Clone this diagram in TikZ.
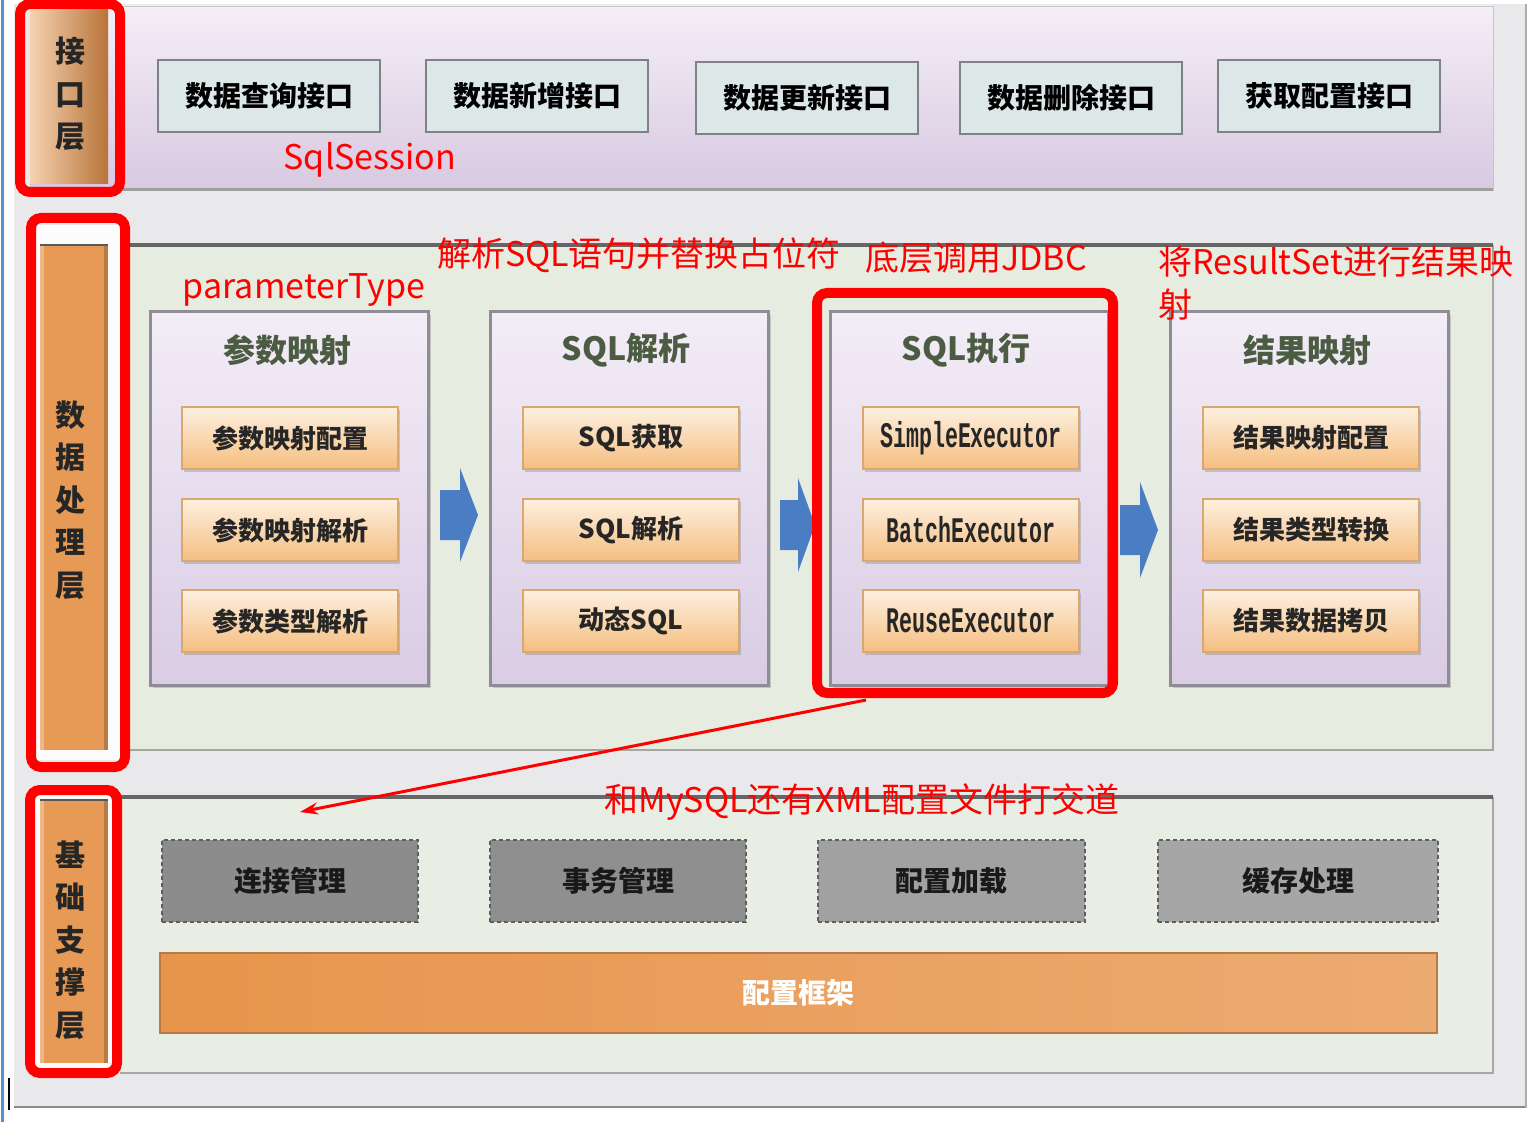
\documentclass[tikz,border=0pt]{standalone}
\usepackage{fontspec}
\usepackage{graphicx}
\setmainfont{Noto Sans CJK SC}
\newfontfamily\monob{Liberation Mono}
\usetikzlibrary{shadows,arrows.meta}
\definecolor{bgcol}{HTML}{E9E9EB}
\definecolor{framegray}{HTML}{8A8A8A}
\definecolor{leftblue}{HTML}{5B8FD0}
\definecolor{topA}{HTML}{F4EEF7}
\definecolor{topB}{HTML}{D8C9E1}
\definecolor{orL}{HTML}{F6D2B0}
\definecolor{orM}{HTML}{E88C35}
\definecolor{orR}{HTML}{B8743A}
\definecolor{orFlat}{HTML}{E69A56}
\definecolor{midbg}{HTML}{E7ECE0}
\definecolor{botbg}{HTML}{E9EEE5}
\definecolor{colA}{HTML}{F3EDF7}
\definecolor{colB}{HTML}{D9CCE4}
\definecolor{colborder}{HTML}{8F8C96}
\definecolor{peachA}{HTML}{FDF0E0}
\definecolor{peachB}{HTML}{F5BE80}
\definecolor{peachborder}{HTML}{D9A870}
\definecolor{ifboxc}{HTML}{DCE7E8}
\definecolor{ifborder}{HTML}{7E8286}
\definecolor{arrowblue}{HTML}{4A7DC2}
\definecolor{titlegreen}{HTML}{4B5C43}
\definecolor{barL}{HTML}{E8954C}
\definecolor{barR}{HTML}{ECAB72}
\definecolor{barborder}{HTML}{B97A45}
\definecolor{dashborder}{HTML}{5E5E5E}
\tikzset{
  ifbox/.style={draw=ifborder, line width=1.3pt, fill=ifboxc, minimum width=111pt, minimum height=36pt,
    inner sep=0pt, font=\fontsize{14}{16}\selectfont\bfseries, text=black},
  colbox/.style={draw=colborder, line width=1.5pt, top color=colA, bottom color=colB,
    minimum width=139pt, minimum height=186.5pt, inner sep=0pt,
    drop shadow={shadow xshift=1.5pt, shadow yshift=-1.5pt, opacity=.35}},
  coltitle/.style={text=titlegreen, font=\fontsize{16}{18}\selectfont\bfseries},
  subbox/.style={draw=peachborder, line width=0.8pt, top color=peachA, bottom color=peachB,
    minimum width=108pt, minimum height=31pt, inner sep=0pt, text=black!85,
    font=\fontsize{13}{15}\selectfont\bfseries,
    drop shadow={shadow xshift=1pt, shadow yshift=-1.5pt, opacity=.35}},
  dbox/.style={draw=dashborder, line width=1pt, dash pattern=on 2pt off 1.5pt,
    minimum height=41pt, inner sep=0pt, text=black!90, font=\fontsize{14}{16}\selectfont\bfseries},
  redbox/.style={draw=red, line width=5pt, rounded corners=5pt},
  redtxt/.style={text=red, inner sep=0pt, font=\fontsize{17}{20}\selectfont},
  vlabel/.style={align=center, inner sep=0pt, text=black!85, font=\fontsize{15}{21.25}\selectfont\bfseries},
  bluearrow/.style={fill=arrowblue},
}
\newcommand{\exectext}[1]{\scalebox{0.6}[1]{\monob\bfseries\fontsize{18}{20}\selectfont #1}}
\begin{document}
\begin{tikzpicture}[x=0.5pt,y=-0.5pt]
\useasboundingbox (0,0) rectangle (1540,1122);
\fill[white] (0,0) rectangle (1540,1122);
\fill[bgcol] (14,4) rectangle (1526,1108);
\draw[line width=1pt, framegray] (14,1107) -- (1526,1107);
\draw[line width=0.8pt, framegray!70] (1526,4) -- (1526,1108);
\draw[line width=1.5pt, leftblue] (2,0) -- (2,1122);
\draw[line width=1.2pt, black] (9,1078) -- (9,1110);

% ---------- top band: interface layer ----------
\path[top color=topA, bottom color=topB, draw=gray!45] (30,6) rectangle (1493,190);
\draw[line width=1.5pt, gray!75] (108,190) -- (1493,190);
\path[left color=orL, middle color=orM, right color=orR] (30,6) rectangle (108,184);
\node[vlabel] (l1) at (70,94) {接\\口\\层};

\node[ifbox] (i1) at (269,96) {数据查询接口};
\node[ifbox] (i2) at (537,96) {数据新增接口};
\node[ifbox] (i3) at (807,98) {数据更新接口};
\node[ifbox] (i4) at (1071,98) {数据删除接口};
\node[ifbox] (i5) at (1329,96) {获取配置接口};
\node[redtxt] (t1) at (370,160) {SqlSession};

% ---------- middle band: data processing layer ----------
\fill[midbg] (130,245) rectangle (1493,750);
\draw[line width=0.8pt, gray!70] (1493,245) -- (1493,750) -- (130,750);
\draw[line width=2pt, gray!80!black] (130,245) -- (1493,245);
\fill[white!85!bgcol] (36,225) rectangle (120,760);
\fill[orFlat] (40,245) rectangle (108,750);
\fill[orFlat!70!white] (40,245) rectangle (44,750);
\fill[orFlat!80!black] (104,245) rectangle (108,750);
\draw[line width=1pt, gray!70!black] (40,245) -- (108,245);
\node[vlabel] (l2) at (70,500) {数\\据\\处\\理\\层};

\node[colbox] (c1) at (289,498.5) {};
\node[colbox] (c2) at (629,498.5) {};
\node[colbox] (c3) at (969,498.5) {};
\node[colbox] (c4) at (1309,498.5) {};

\node[coltitle] (h1) at (287,350) {参数映射};
\node[coltitle] (h2) at (626,350) {SQL解析};
\node[coltitle] (h3) at (966,350) {SQL执行};
\node[coltitle] (h4) at (1307,350) {结果映射};

\node[subbox] (a1) at (290,438) {参数映射配置};
\node[subbox] (a2) at (290,530) {参数映射解析};
\node[subbox] (a3) at (290,621) {参数类型解析};
\node[subbox] (b1) at (631,438) {SQL获取};
\node[subbox] (b2) at (631,530) {SQL解析};
\node[subbox] (b3) at (631,621) {动态SQL};
\node[subbox] (e1) at (971,438) {\exectext{SimpleExecutor}};
\node[subbox] (e2) at (971,530) {\exectext{BatchExecutor}};
\node[subbox] (e3) at (971,621) {\exectext{ReuseExecutor}};
\node[subbox] (r1) at (1311,438) {结果映射配置};
\node[subbox] (r2) at (1311,530) {结果类型转换};
\node[subbox] (r3) at (1311,621) {结果数据拷贝};

% block arrows between columns
\fill[bluearrow] (440,490) -- (460,490) -- (460,468) -- (478,515) -- (460,562) -- (460,540) -- (440,540) -- cycle;
\fill[bluearrow] (780,500) -- (798,500) -- (798,478) -- (815,525) -- (798,572) -- (798,550) -- (780,550) -- cycle;
\fill[bluearrow] (1120,505) -- (1140,505) -- (1140,482) -- (1158,530) -- (1140,578) -- (1140,555) -- (1120,555) -- cycle;

% annotations
\node[redtxt] (t2) at (304,290) {parameterType};
\node[redtxt] (t3) at (639,255) {解析SQL语句并替换占位符};
\node[redtxt] (t4) at (976,258) {底层调用JDBC};
\node[redtxt, anchor=west] (t5) at (1158,262) {将ResultSet进行结果映};
\node[redtxt, anchor=west] (t6) at (1158,305) {射};

% ---------- bottom band: foundation layer ----------
\fill[botbg] (120,797) rectangle (1493,1073);
\draw[line width=0.8pt, gray!70] (1493,797) -- (1493,1073) -- (120,1073);
\draw[line width=2pt, gray!80!black] (120,797) -- (1493,797);
\fill[white!85!bgcol] (34,792) rectangle (114,1070);
\fill[orFlat] (40,800) rectangle (108,1063);
\fill[orFlat!70!white] (40,800) rectangle (44,1063);
\fill[orFlat!80!black] (104,800) rectangle (108,1063);
\draw[line width=1pt, gray!70!black] (40,800) -- (108,800);
\node[vlabel] (l3) at (70,940) {基\\础\\支\\撑\\层};

\node[dbox, fill=black!45, minimum width=128pt] (d1) at (290,881) {连接管理};
\node[dbox, fill=black!44, minimum width=128pt] (d2) at (618,881) {事务管理};
\node[dbox, fill=black!37, minimum width=133.5pt] (d3) at (951,881) {配置加载};
\node[dbox, fill=black!35, minimum width=140pt] (d4) at (1298,881) {缓存处理};
\node[draw=barborder, line width=1pt, left color=barL, right color=barR, minimum width=638.5pt,
  minimum height=40pt, inner sep=0pt, text=white, font=\fontsize{14}{16}\selectfont\bfseries]
  (fw) at (798.5,993) {配置框架};

\node[redtxt] (t7) at (862,802) {和MySQL还有XML配置文件打交道};

% ---------- red highlight frames ----------
\draw[redbox] (20,4) rectangle (120,192);
\draw[redbox] (31,218) rectangle (125,767);
\draw[redbox] (30,790) rectangle (117,1073);
\draw[redbox] (817,293) rectangle (1113,693);

\coordinate (arrS) at (866,700);
\coordinate (arrE) at (300,812);
\draw[red, line width=1.5pt, -{Stealth[length=9pt,width=6pt]}] (arrS) -- (arrE);
\end{tikzpicture}
\end{document}
